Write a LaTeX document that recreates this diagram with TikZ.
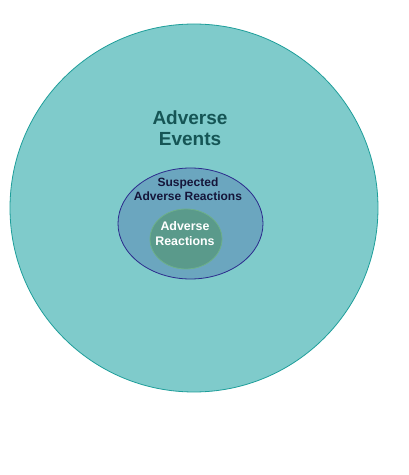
\documentclass[tikz,border=0pt]{standalone}
\usepackage{fontspec}
\setmainfont{Liberation Sans}
\usepackage{tikz}
\definecolor{eventfill}{HTML}{7FCBCB}
\definecolor{eventline}{HTML}{1E9E9A}
\definecolor{eventtext}{HTML}{155555}
\definecolor{suspfill}{HTML}{6BA6BF}
\definecolor{suspline}{HTML}{2B2B8C}
\definecolor{susptext}{HTML}{15153A}
\definecolor{reacfill}{HTML}{5A9A8B}
\definecolor{reacline}{HTML}{6DB08A}

\begin{document}
\begin{tikzpicture}[x=1pt,y=1pt,
    label text/.style={align=center,font=\bfseries}]
  \useasboundingbox (0,0) rectangle (408,475);

  % Conjuntos anidados
  \draw[eventline, fill=eventfill, line width=0.8pt] (194,267) circle (184);
  \draw[suspline, fill=suspfill, line width=0.8pt] (190.5,251.5) ellipse (72.5 and 55.5);
  \draw[reacline, fill=reacfill, line width=0.8pt] (186,236) ellipse (36 and 30);

  % Etiquetas
  \node[label text, eventtext, font=\fontsize{19}{21}\selectfont\bfseries]
    (events) at (190,347) {Adverse\\Events};
  \node[label text, susptext, font=\fontsize{12}{14}\selectfont\bfseries]
    (suspected) at (188,286) {Suspected\\Adverse Reactions};
  \node[label text, white, font=\fontsize{12.4}{15}\selectfont\bfseries]
    (reactions) at (185,241.5) {Adverse\\Reactions};
\end{tikzpicture}
\end{document}
